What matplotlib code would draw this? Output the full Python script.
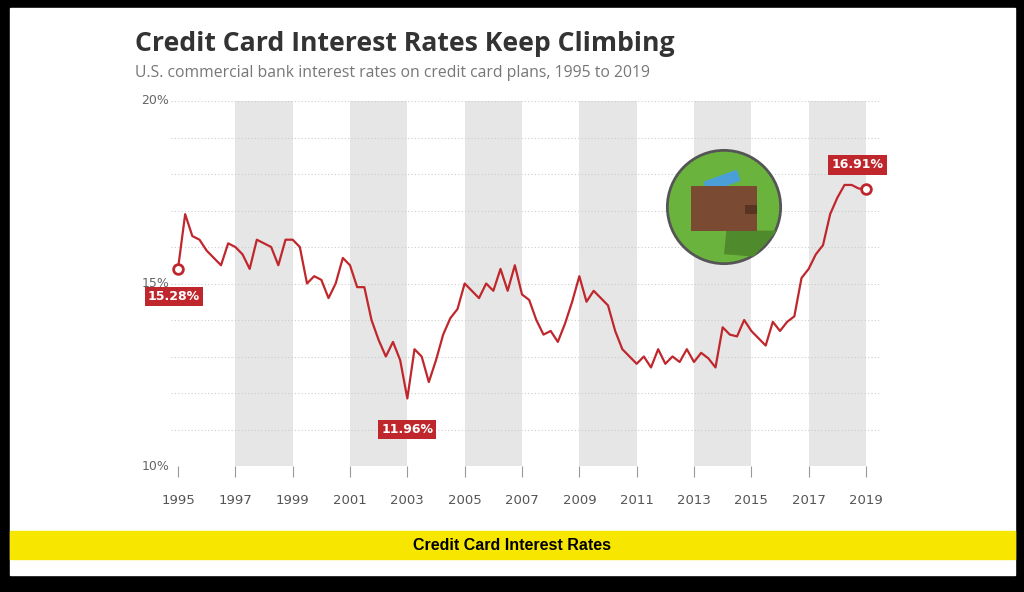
import matplotlib.pyplot as plt
import matplotlib.patches as mp
import numpy as np

years = np.arange(1995, 2019.01, 0.25)
rates = [15.4,16.9,16.3,16.2,15.9,15.7,15.5,16.1,16.0,15.8,15.4,16.2,16.1,16.0,15.5,16.2,
         16.2,16.0,15.0,15.2,15.1,14.6,15.0,15.7,15.5,14.9,14.9,14.0,13.45,13.0,13.4,12.9,
         11.85,13.2,13.0,12.3,12.9,13.6,14.05,14.3,15.0,14.8,14.6,15.0,14.8,15.4,14.8,15.5,
         14.7,14.55,14.0,13.6,13.7,13.4,13.9,14.5,15.2,14.5,14.8,14.6,14.4,13.7,13.2,13.0,
         12.8,13.0,12.7,13.2,12.8,13.0,12.85,13.2,12.85,13.1,12.95,12.7,13.8,13.6,13.55,14.0,
         13.7,13.5,13.3,13.95,13.7,13.95,14.1,15.15,15.4,15.8,16.05,16.9,17.35,17.7,17.7,17.6,17.6]
xticks = [1995,1997,1999,2001,2003,2005,2007,2009,2011,2013,2015,2017,2019]
labels = [(1995, 15.4, "15.28%", -0.75, -0.15), (2003, 11.85, "11.96%", -0.85, 0), (2019, 17.6, "16.91%", 0.65, -0.3)]

W, H = 1024, 592
fig = plt.figure(figsize=(W/100, H/100), dpi=100)
fig.patch.set_facecolor('black')
fig.add_artist(mp.Rectangle((10/W, 17/H), 1005/W, 567/H, transform=fig.transFigure, color='white', zorder=0))
fig.add_artist(mp.Rectangle((10/W, 33/H), 1005/W, 28/H, transform=fig.transFigure, color='#f7e600', zorder=5))
fig.text(512/W, 47/H, "Credit Card Interest Rates", ha='center', va='center', fontsize=11.5,
         fontweight='bold', family='Liberation Sans', zorder=6)
fig.text(135/W, 1-44/H, "Credit Card Interest Rates Keep Climbing", fontsize=19.2, fontweight='bold',
         color='#333333', va='center', family='Open Sans')
fig.text(135/W, 1-73/H, "U.S. commercial bank interest rates on credit card plans, 1995 to 2019",
         fontsize=11.3, color='#777777', va='center', family='Open Sans')

x0, x1 = 150, 880
ppy = (866-178)/24
ax = fig.add_axes([x0/W, 1-466/H, (x1-x0)/W, 365/H])
ax.set_xlim(1995-(178-x0)/ppy, 2019+(x1-866)/ppy)
ax.set_ylim(10, 20)
ax.patch.set_alpha(0)
for s in ax.spines.values(): s.set_visible(False)
ax.set_yticks([])
for y in range(1997, 2019, 4):
    ax.axvspan(y, y+2, color='#e6e6e6', zorder=0, lw=0)
for v in np.arange(10, 20.1, 1):
    ax.plot([1994.75, ax.get_xlim()[1]], [v, v], color='#cccccc', ls=(0, (1, 2)), lw=0.8, zorder=1)
for v in (10, 15, 20):
    ax.text(1994.7, v, f"{v}%", fontsize=9, color='#666666', va='center', ha='right')
ax.set_xticks(xticks)
ax.set_xticklabels([str(t) for t in xticks], fontsize=9.5, color='#555555')
ax.tick_params(axis='x', length=8, pad=12, color='#999999')
ax.plot(years, rates, color='#c0272d', lw=1.6, zorder=3)
for (x, y, t, dy, dx) in labels:
    if x in (1995, 2019):
        ax.plot(x, y, 'o', ms=7, mfc='white', mec='#c0272d', mew=2, zorder=4)
    ax.text(x+dx, y+dy, t, ha='center', va='center', color='white', fontsize=9, fontweight='bold',
            bbox=dict(boxstyle='square,pad=0.25', fc='#c0272d', ec='none'), zorder=5)

# wallet icon
ia = fig.add_axes([665/W, 1-266/H, 118/W, 118/H])
ia.set_xlim(0, 1); ia.set_ylim(0, 1); ia.axis('off')
ia.add_patch(mp.Circle((0.5, 0.5), 0.48, fc='#6ab43e', ec='#555555', lw=2))
ia.add_patch(mp.Polygon([[0.52, 0.3], [0.95, 0.3], [0.75, 0.08], [0.5, 0.1]], fc='#4f8a2c', ec='none'))
ia.add_patch(mp.Rectangle((0.36, 0.62), 0.3, 0.1, angle=20, fc='#4a9fd8'))
ia.add_patch(mp.Rectangle((0.22, 0.3), 0.56, 0.38, fc='#7a4a32'))
ia.add_patch(mp.Rectangle((0.68, 0.44), 0.1, 0.08, fc='#5a3422'))
fig.text(890/W, 1-548/H, "statista", ha='right', fontsize=10, fontweight='bold', color='#999999', alpha=0.6)
fig.savefig('out.png', dpi=100, facecolor='black')
